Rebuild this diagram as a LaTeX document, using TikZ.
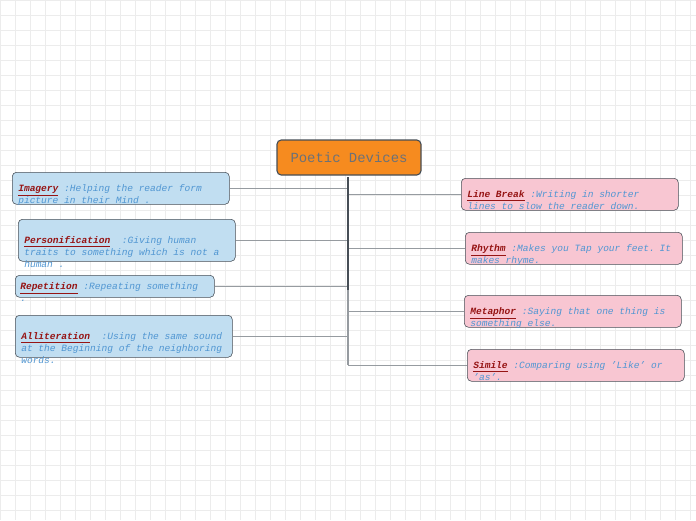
\documentclass[tikz,border=0pt]{standalone}
\usepackage{fontspec}
\setmainfont{Liberation Mono}
\definecolor{gridline}{RGB}{236,236,236}
\definecolor{rootfill}{RGB}{246,139,31}
\definecolor{rootedge}{RGB}{70,78,86}
\definecolor{leftfill}{RGB}{193,222,241}
\definecolor{rightfill}{RGB}{248,198,210}
\definecolor{termtext}{RGB}{150,20,20}
\definecolor{desctext}{RGB}{80,150,210}
\definecolor{branch}{RGB}{150,155,160}
\newcommand{\dev}[2]{\hyphenpenalty=10000\spaceskip=0.6em\relax\textcolor{termtext}{\bfseries\itshape\underline{#1}}\textcolor{desctext}{\itshape\ #2}}

\begin{document}
\begin{tikzpicture}[x=0.025cm, y=-0.025cm]
            \tikzstyle{item} = [draw=rootedge, rounded corners=3pt, anchor=north west, align=left,
                font=\fontsize{6.8}{8.4}\selectfont, inner xsep=5*0.025cm, inner ysep=0pt, text depth=0pt]
            \tikzstyle{link} = [draw=branch, line width=0.6pt]
            \useasboundingbox (0,0) rectangle (696,520);
            % background grid
            \foreach \gx in {0,15,...,690} \draw[gridline] (\gx,0) -- (\gx,520);
            \foreach \gy in {0,15,...,515} \draw[gridline] (0,\gy) -- (696,\gy);

            \node[draw=rootedge, fill=rootfill, rounded corners=3pt, line width=0.8pt,
                minimum width=144*0.025cm, minimum height=35*0.025cm, text=rootedge!80,
                font=\fontsize{9.9}{12}\selectfont] (root) at (349,157.5) {Poetic Devices};

            \coordinate (top) at (348,177);
            \coordinate (bottom) at (348,365);
            \coordinate (thick) at (348,290);

            \node[item, fill=leftfill, minimum width=217*0.025cm, minimum height=32*0.025cm,
                text width=205*0.025cm] (imagery) at (12,172)
                {\dev{Imagery}{:Helping the reader form picture in their Mind .}};
            \node[item, fill=leftfill, minimum width=217*0.025cm, minimum height=42*0.025cm,
                text width=205*0.025cm] (person) at (18,219)
                {\dev{Personification}{ :Giving human traits to something which is not a human .}};
            \node[item, fill=leftfill, minimum width=199*0.025cm, minimum height=22*0.025cm,
                text width=189*0.025cm] (repet) at (15,275)
                {\dev{Repetition}{:Repeating something .}};
            \node[item, fill=leftfill, minimum width=217*0.025cm, minimum height=42*0.025cm,
                text width=205*0.025cm] (allit) at (15,315)
                {\dev{Alliteration}{ :Using the same sound at the Beginning of the neighboring words.}};

            \node[item, fill=rightfill, minimum width=217*0.025cm, minimum height=32*0.025cm,
                text width=205*0.025cm] (linebreak) at (461,178)
                {\dev{Line Break}{:Writing in shorter lines to slow the reader down.}};
            \node[item, fill=rightfill, minimum width=217*0.025cm, minimum height=32*0.025cm,
                text width=205*0.025cm] (rhythm) at (465,232)
                {\dev{Rhythm}{:Makes you Tap your feet. It makes rhyme.}};
            \node[item, fill=rightfill, minimum width=217*0.025cm, minimum height=32*0.025cm,
                text width=205*0.025cm] (metaphor) at (464,295)
                {\dev{Metaphor}{:Saying that one thing is something else.}};
            \node[item, fill=rightfill, minimum width=217*0.025cm, minimum height=32*0.025cm,
                text width=205*0.025cm] (simile) at (467,349)
                {\dev{Simile}{:Comparing using 'Like' or 'as'.}};

            % branches
            \draw[link] (imagery.east) -- (imagery.east -| top);
            \draw[link] (person.east) -- (person.east -| top);
            \draw[link] (repet.east) -- (repet.east -| top);
            \draw[link] (allit.east) -- (allit.east -| top);
            \draw[link] (linebreak.west) -- (linebreak.west -| top);
            \draw[link] (rhythm.west) -- (rhythm.west -| top);
            \draw[link] (metaphor.west) -- (metaphor.west -| top);
            \draw[link] (simile.west) -- (simile.west -| top);
            \draw[branch, line width=0.8pt] (thick) -- (bottom);
            \draw[rootedge, line width=2pt] (top) -- (thick);
        \end{tikzpicture}
\end{document}
